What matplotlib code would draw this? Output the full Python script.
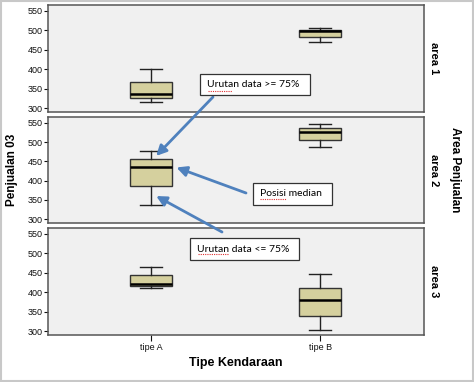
import matplotlib
matplotlib.use("Agg")
import matplotlib.pyplot as plt
from matplotlib.patches import Rectangle
from matplotlib.lines import Line2D

# five-number summaries (whislo, q1, med, q3, whishi)
vehicle_types = ["tipe A", "tipe B"]
areas = ["area 1", "area 2", "area 3"]
tipe_a = [
    [315, 325, 336, 368, 400],
    [337, 386, 435, 457, 478],
    [412, 416, 420, 443, 465],
]
tipe_b = [
    [470, 484, 497, 501, 505],
    [487, 506, 525, 536, 546],
    [303, 340, 380, 412, 446],
]
yticks = [300, 350, 400, 450, 500, 550]

W, H = 474, 382
fig = plt.figure(figsize=(W / 100, H / 100), dpi=100)
plt.rcParams['font.family'] = ['Liberation Sans', 'DejaVu Sans']

# panel rectangles in pixels (left, top, right, bottom)
panels = [(48, 5, 424, 112), (48, 117, 424, 223), (48, 228, 424, 335)]

axes = []
for i, (l, t, r, b) in enumerate(panels):
    ax = fig.add_axes([l / W, (H - b) / H, (r - l) / W, (b - t) / H])
    ax.set_facecolor("#f0f0f0")
    stats = []
    for vals, lab in ((tipe_a[i], vehicle_types[0]), (tipe_b[i], vehicle_types[1])):
        lo, q1, med, q3, hi = vals
        stats.append(dict(whislo=lo, q1=q1, med=med, q3=q3, whishi=hi, label=lab, fliers=[]))
    ax.bxp(stats, positions=[0, 1], widths=0.25, patch_artist=True, showfliers=False,
           boxprops=dict(facecolor="#d5d09e", edgecolor="#333333", linewidth=1),
           medianprops=dict(color="black", linewidth=1.8),
           whiskerprops=dict(color="#222222", linewidth=1),
           capprops=dict(color="#222222", linewidth=1), capwidths=0.13)
    ax.set_xlim(-0.61, 1.615)
    ax.set_ylim(290, 565)
    ax.set_yticks(yticks)
    ax.tick_params(axis="y", labelsize=6.5, length=3, width=0.8, pad=1, colors="#111111")
    for s in ax.spines.values():
        s.set_color("#555555")
        s.set_linewidth(1.1)
    if i < 2:
        ax.set_xticks([])
    else:
        ax.set_xticks([0, 1])
        ax.set_xticklabels(vehicle_types)
        ax.tick_params(axis="x", labelsize=6.5, length=4, width=0.8, pad=2, colors="#111111")
    fig.text((r + 10) / W, 1 - (t + b) / 2 / H, areas[i], rotation=270, ha="center",
             va="center", fontsize=8, fontweight="bold")
    axes.append(ax)

# arrows sit on top of the other panels
axes[1].set_zorder(3)

fig.text(12 / W, 1 - 170 / H, "Penjualan 03", rotation=90, ha="center", va="center",
         fontsize=8.5, fontweight="bold")
fig.text(455 / W, 1 - 170 / H, "Area Penjualan", rotation=270, ha="center", va="center",
         fontsize=8.5, fontweight="bold")
fig.text(236 / W, 1 - 363 / H, "Tipe Kendaraan", ha="center", va="center",
         fontsize=9, fontweight="bold")

# callout boxes (left, top, right, bottom in pixels)
notes = [
    ("Urutan data >= 75%", (200, 74, 310, 95)),
    ("Posisi median", (253, 183, 332, 205)),
    ("Urutan data <= 75%", (190, 238, 299, 260)),
]
for txt, (l, t, r, b) in notes:
    fig.patches.append(Rectangle((l / W, 1 - b / H), (r - l) / W, (b - t) / H,
                                 transform=fig.transFigure, facecolor="white",
                                 edgecolor="#333333", linewidth=0.9, zorder=5))
    fig.text((l + 7) / W, 1 - (t + b) / 2 / H, txt, ha="left", va="center",
             fontsize=7.5, family=["Lato", "DejaVu Sans"], zorder=6)

# spell-check squiggles under the first word of each note
squiggles = [(208, 232, 91), (260, 286, 199), (198, 229, 254)]
for x0, x1, y in squiggles:
    fig.add_artist(Line2D([x0 / W, x1 / W], [1 - y / H, 1 - y / H], transform=fig.transFigure,
                          color="#e03030", lw=0.8, ls=(0, (1, 1)), zorder=7))

# arrows: start pixel -> target on panel 2 (x position, value)
arrows = [
    ((213, 97), (0.03, 464)),
    ((246, 193), (0.15, 434)),
    ((222, 232), (0.03, 360)),
]
for (sx, sy), (tx, ty) in arrows:
    axes[1].annotate("", xy=(tx, ty), xycoords="data",
                     xytext=(sx, H - sy), textcoords="figure pixels",
                     arrowprops=dict(arrowstyle="-|>,head_length=0.6,head_width=0.3",
                                     color="#4f81bd", lw=2, shrinkA=0, shrinkB=0),
                     annotation_clip=False, zorder=10)

fig.patches.append(Rectangle((0.003, 0.003), 0.994, 0.994, transform=fig.transFigure,
                             fill=False, edgecolor="#c8c8c8", linewidth=1.5))

fig.savefig("out.png", dpi=100)
